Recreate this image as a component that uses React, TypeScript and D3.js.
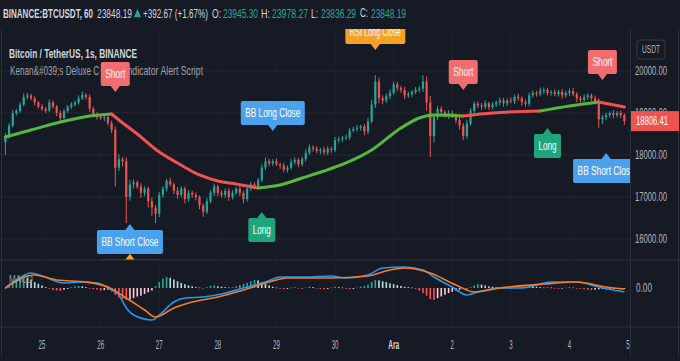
import * as React from 'react';
import * as d3 from 'd3';

// 90 minute bars, BTCUSDT, 24 Nov - 4 Dec 2020
const firstOpen = 18300;
const closes = [
  18440, 18700, 19000, 19050, 19200, 19380, 19420, 19350, 19250, 19150,
  19100, 19060, 19250, 19150, 19000, 18880, 19050, 19150, 19200, 19250,
  19350, 19430, 19380, 19100, 18980, 18900, 18880, 18900, 18760, 18600,
  17700, 17900, 17850, 17000, 17300, 17350, 17250, 17100, 17200, 16900,
  16750, 16600, 17050, 17200, 17380, 17300, 17150, 17050, 17200, 16950,
  17100, 17050, 17000, 16800, 16650, 16900, 17100, 17250, 17100, 17050,
  17150, 17000, 17100, 17200, 17100, 16950, 17200, 17300, 17250, 17400,
  17700, 17850, 17800, 17850, 17780, 17750, 17650, 17700, 17830, 17880,
  17780, 17900, 18050, 18180, 18150, 18100, 18130, 18060, 18150, 18120,
  18350, 18380, 18400, 18420, 18580, 18620, 18650, 18680, 18560, 18800,
  19200, 19750, 19350, 19300, 19400, 19480, 19680, 19600, 19550, 19420,
  19450, 19500, 19550, 19580, 19750, 19250, 18450, 18900, 19100, 19020,
  18950, 19000, 18950, 18830, 18700, 18450, 18750, 19050, 19220, 19180,
  19150, 19230, 19140, 19200, 19250, 19300, 19230, 19300, 19280, 19380,
  19350, 19260, 19220, 19420, 19480, 19460, 19530, 19550, 19480, 19500,
  19450, 19500, 19420, 19480, 19520, 19450, 19350, 19310, 19380, 19420,
  19350, 19280, 18850, 18900, 18950, 19000, 18950, 19000, 18950, 18806.41,
];
const wickUp = [
  80, 60, 70, 50, 60, 90, 60, 40, 50, 30,
  60, 40, 70, 50, 40, 60, 50, 40, 60, 50,
  70, 80, 40, 60, 50, 40, 60, 50, 40, 60,
  80, 120, 60, 90, 110, 70, 40, 80, 60, 50,
  90, 60, 70, 60, 50, 80, 40, 90, 60, 50,
  70, 50, 60, 40, 50, 80, 60, 70, 40, 60,
  50, 70, 60, 40, 60, 50, 70, 60, 50, 60,
  80, 90, 60, 50, 70, 40, 60, 50, 70, 60,
  50, 60, 80, 70, 50, 60, 40, 70, 60, 50,
  80, 60, 50, 70, 60, 50, 70, 40, 60, 80,
  120, 150, 90, 70, 60, 80, 70, 60, 50, 70,
  60, 50, 70, 60, 150, 120, 160, 90, 70, 60,
  50, 70, 60, 40, 80, 60, 90, 70, 60, 50,
  60, 70, 40, 60, 50, 70, 60, 50, 70, 60,
  80, 50, 60, 70, 60, 50, 80, 60, 50, 40,
  60, 50, 70, 40, 60, 80, 50, 60, 70, 50,
  40, 60, 70, 50, 60, 40, 70, 50, 60, 40,
];
const wickDn = [
  300, 50, 40, 60, 50, 40, 60, 50, 70, 40,
  50, 60, 40, 50, 70, 60, 40, 50, 60, 40,
  50, 40, 60, 70, 50, 60, 40, 70, 60, 80,
  450, 80, 120, 620, 90, 100, 60, 120, 80, 150,
  200, 220, 80, 60, 70, 50, 80, 90, 60, 100,
  60, 70, 80, 90, 120, 60, 50, 70, 80, 60,
  70, 90, 60, 50, 80, 100, 60, 50, 70, 60,
  50, 60, 70, 60, 50, 80, 60, 70, 50, 60,
  70, 50, 60, 50, 70, 60, 80, 50, 60, 70,
  50, 60, 70, 50, 60, 40, 60, 70, 90, 60,
  50, 80, 120, 90, 60, 70, 50, 80, 70, 90,
  60, 70, 50, 60, 80, 200, 500, 150, 70, 80,
  60, 90, 70, 80, 90, 100, 60, 50, 70, 60,
  80, 60, 70, 50, 60, 70, 80, 60, 50, 70,
  60, 90, 70, 60, 50, 70, 60, 80, 60, 70,
  50, 60, 80, 60, 70, 50, 90, 60, 50, 70,
  60, 80, 200, 110, 70, 60, 80, 60, 70, 90,
];

// moving average, [bar index, price]
const maKnots: [number, number][] = [
  [0, 18430], [7, 18595], [15, 18786], [23, 18930], [29, 18976], [31, 18833],
  [36, 18500], [42, 18071], [47, 17810], [53, 17524], [58, 17381], [63, 17310],
  [69, 17214], [75, 17286], [81, 17452], [87, 17619], [93, 17810], [100, 18119],
  [108, 18643], [113, 18881], [117, 18952], [125, 18930], [133, 19000],
  [146, 19048], [154, 19167], [162, 19262], [169, 19143],
];
const maTrendBreaks = [29, 69, 125, 146, 162]; // starts rising

const macdKnots: [number, number][] = [
  [0, 0], [3, 94], [7, 176], [10, 141], [16, 59], [20, 71], [25, 59], [28, 0],
  [31, -82], [33, -235], [35, -318], [40, -376], [42, -318], [46, -165],
  [49, -118], [54, -106], [59, -71], [65, 0], [71, 71], [75, 129], [82, 129],
  [89, 141], [93, 118], [99, 153], [103, 235], [109, 247], [114, 212],
  [117, 129], [122, 12], [126, -82], [129, -47], [135, 0], [141, 0],
  [149, 71], [156, 71], [162, 12], [166, -24], [169, -47],
];
const signalKnots: [number, number][] = [
  [0, 0], [8, 153], [14, 94], [22, 71], [28, 12], [33, -118], [38, -259],
  [41, -341], [46, -235], [51, -165], [58, -106], [65, -24], [72, 71],
  [77, 118], [89, 118], [99, 141], [105, 212], [109, 235], [116, 176],
  [123, 35], [128, -47], [135, 0], [147, 47], [156, 71], [164, 12], [169, -12],
];
const macdHist = [
  0, 40, 80, 110, 130, 140, 120, 100, 70, 50,
  30, 10, -10, -25, -30, -35, -20, -10, 10, 20,
  25, 20, 10, -5, -15, -20, -30, -25, -20, -40,
  -80, -110, -130, -140, -135, -120, -100, -90, -70, -50,
  -30, 20, 70, 110, 130, 120, 100, 80, 60, 45,
  30, 20, 10, 5, -5, 10, 25, 30, 20, 15,
  10, 5, 10, 20, 35, 50, 60, 80, 95, 90,
  70, 50, 30, 15, 5, -10, -15, -10, 5, 10,
  -5, -10, 5, 15, 10, -5, -10, -15, -10, 5,
  15, 10, 5, -10, -15, -10, 5, 15, 25, 40,
  70, 95, 90, 80, 70, 55, 45, 35, 25, 15,
  10, 5, -10, -30, -60, -90, -130, -140, -120, -100,
  -80, -60, -45, -30, -20, -10, -5, 10, 30, 45,
  40, 30, 20, 15, 10, 5, -5, -10, -5, 5,
  10, 15, 20, 25, 20, 15, 10, 5, 10, 5,
  -5, -10, -5, 5, 10, 5, -5, -10, -15, -20,
  -25, -20, -15, -10, -15, -10, -5, -10, -15, -10,
];

const priceTicks = [16000, 17000, 18000, 19000, 20000];
const dayTickLabels = ['25', '26', '27', '28', '29', '30', 'Ara', '2', '3', '4', '5'];
const lastPrice = 18806.41;

const signals = [
  { text: 'RSI Short Close', at: 34, price: 15650, dir: 'up', kind: 'rsi' },
  { text: 'Short', at: 30, price: 19500, dir: 'down', kind: 'short' },
  { text: 'BB Long Close', at: 73, price: 18571, dir: 'down', kind: 'bb' },
  { text: 'BB Short Close', at: 34, price: 16357, dir: 'up', kind: 'bb' },
  { text: 'Long', at: 70, price: 16643, dir: 'up', kind: 'long' },
  { text: 'RSI Long Close', at: 101, price: 20500, dir: 'down', kind: 'rsi' },
  { text: 'Short', at: 125, price: 19548, dir: 'down', kind: 'short' },
  { text: 'Long', at: 148, price: 18643, dir: 'up', kind: 'long' },
  { text: 'Short', at: 163, price: 19786, dir: 'down', kind: 'short' },
  { text: 'BB Short Close', at: 164, price: 18048, dir: 'up', kind: 'bb' },
];

const labelColor: Record<string, string> = {
  short: '#f26d6f', long: '#1fa57b', bb: '#4aa2ee', rsi: '#f6a025',
};
const labelWidth: Record<string, number> = {
  'Short': 29, 'Long': 27, 'BB Long Close': 64, 'BB Short Close': 66,
  'RSI Long Close': 60, 'RSI Short Close': 62,
};

const W = 680, H = 361;
const PLOT_R = 630, MAIN_T = 29, MAIN_B = 260, MACD_B = 327;
const BG = '#161a25';
const UP = '#26a69a', DOWN = '#ef5350';
const FONT = "'Liberation Sans', Arial, sans-serif";

// text squeezed horizontally to a given width (the screenshot is condensed)
function Txt(props: {
  x: number; y: number; w: number; children: React.ReactNode;
  anchor?: string; size?: number; fill?: string; weight?: number;
}) {
  const { x, y, w, children, anchor = 'start', size = 12, fill = '#b2b5be', weight = 400 } = props;
  const ref = React.useRef<SVGTextElement>(null);
  const [sx, setSx] = React.useState(0.6);
  React.useLayoutEffect(() => {
    if (ref.current) {
      const len = ref.current.getComputedTextLength();
      if (len > 0) setSx(w / len);
    }
  }, [w, children, size]);
  return (
    <text ref={ref} transform={`translate(${x},${y}) scale(${sx},1)`}
      textAnchor={anchor as any} dominantBaseline="central"
      fontSize={size} fill={fill} fontWeight={weight} fontFamily={FONT}>
      {children}
    </text>
  );
}

export default function App() {
  const start = new Date(2020, 10, 24, 9);
  const times = closes.map((_, i) => d3.timeMinute.offset(start, i * 90));
  const x = d3.scaleTime()
    .domain([start, times[times.length - 1]])
    .range([5.4, 624.4]);
  const xi = (i: number) => x(times[i]);
  const y = d3.scaleLinear().domain([16000, 20000]).range([239, 71]);
  const my = d3.scaleLinear().domain([-400, 300]).range([322, 262.5]);
  const tickDates = d3.timeDay.range(new Date(2020, 10, 25), new Date(2020, 11, 6));

  const candles = closes.map((c, i) => {
    const o = i === 0 ? firstOpen : closes[i - 1];
    const hi = Math.max(o, c) + wickUp[i];
    const lo = Math.min(o, c) - wickDn[i];
    return { o, c, hi, lo, i };
  });

  const maLine = d3.line<[number, number]>()
    .x(d => xi(d[0])).y(d => y(d[1])).curve(d3.curveMonotoneX);
  const bounds = [0, ...maTrendBreaks, closes.length - 1];
  const maSegs = bounds.slice(0, -1).map((b, k) => ({
    up: k % 2 === 0,
    d: maLine(maKnots.filter(p => p[0] >= b && p[0] <= bounds[k + 1])) || '',
  }));

  const macdLine = d3.line<[number, number]>()
    .x(d => xi(d[0])).y(d => my(d[1])).curve(d3.curveMonotoneX);

  const histColor = (i: number) => {
    const v = macdHist[i];
    const prev = i === 0 ? 0 : macdHist[i - 1];
    if (v >= 0) return v >= prev ? '#26a69a' : '#b2dfdb';
    return v <= prev ? '#ff5252' : '#ffcdd2';
  };

  const grid = '#222632';
  const text = '#b2b5be';

  return (
    <svg width={W} height={H} style={{ position: 'fixed', left: 0, top: 0 }}>
      <defs>
        <clipPath id="mainClip"><rect x={0} y={MAIN_T} width={PLOT_R} height={MAIN_B - MAIN_T} /></clipPath>
        <clipPath id="macdClip"><rect x={0} y={MAIN_B} width={PLOT_R} height={MACD_B - MAIN_B} /></clipPath>
      </defs>
      <rect width={W} height={H} fill={BG} />

      {/* grid */}
      {tickDates.map((d, k) => (
        <line key={'vg' + k} x1={x(d)} x2={x(d)} y1={MAIN_T} y2={MACD_B} stroke="#1c202b" />
      ))}
      {priceTicks.map(p => (
        <line key={'hg' + p} x1={0} x2={PLOT_R} y1={y(p)} y2={y(p)} stroke={grid} />
      ))}

      {/* candles */}
      <g clipPath="url(#mainClip)">
        {candles.map(c => {
          const col = c.c >= c.o ? UP : DOWN;
          const cx = xi(c.i);
          const top = y(Math.max(c.o, c.c));
          const h = Math.max(1, y(Math.min(c.o, c.c)) - top);
          return (
            <g key={c.i}>
              <line x1={cx} x2={cx} y1={y(c.hi)} y2={y(c.lo)} stroke={col} strokeWidth={1} />
              <rect x={cx - 1.1} y={top} width={2.2} height={h} fill={col} />
            </g>
          );
        })}
        {maSegs.map((s, k) => (
          <path key={'ma' + k} d={s.d} fill="none" stroke={s.up ? '#55b83b' : '#ef5350'}
            strokeWidth={3} strokeLinecap="round" />
        ))}
      </g>

      {/* legend */}
      <Txt x={9} y={54} w={128} fill="#d1d4dc" weight={600}>Bitcoin / TetherUS, 1s, BINANCE</Txt>
      <Txt x={10} y={71} w={89} fill="#9ea1aa">{'Kenan&#039;s Deluxe C'}</Txt>
      <Txt x={125} y={71} w={78} fill="#9ea1aa">{'Indicator Alert Script'}</Txt>

      {/* signal labels */}
      <g clipPath="url(#mainClip)">
        {signals.map((s, k) => {
          const cx = xi(s.at);
          const ty = y(s.price);
          const w = labelWidth[s.text];
          const h = 24;
          const down = s.dir === 'down';
          const boxY = down ? ty - 6 - h : ty + 6;
          const tri = down
            ? `M${cx - 5},${ty - 6.5} L${cx + 5},${ty - 6.5} L${cx},${ty} Z`
            : `M${cx - 5},${ty + 6.5} L${cx + 5},${ty + 6.5} L${cx},${ty} Z`;
          const fill = labelColor[s.kind];
          return (
            <g key={'sig' + k}>
              <rect x={cx - w / 2} y={boxY} width={w} height={h} rx={2} fill={fill} />
              <path d={tri} fill={fill} />
              <Txt x={cx} y={boxY + h / 2} w={w - 9} anchor="middle" size={12} fill="#ffffff">{s.text}</Txt>
            </g>
          );
        })}
      </g>

      {/* MACD pane */}
      <g clipPath="url(#macdClip)">
        {macdHist.map((v, i) => (
          <rect key={'h' + i} x={xi(i) - 0.8} width={1.6}
            y={Math.min(my(v), my(0))} height={Math.max(0.6, Math.abs(my(v) - my(0)))}
            fill={histColor(i)} />
        ))}
        <path d={macdLine(macdKnots) || ''} fill="none" stroke="#2196f3" strokeWidth={1.6} />
        <path d={macdLine(signalKnots) || ''} fill="none" stroke="#f57c1f" strokeWidth={1.6} />
      </g>
      <Txt x={9} y={279} w={24} size={11} fill="#9598a1">MACD</Txt>

      {/* pane borders */}
      <line x1={0} x2={W} y1={MAIN_B} y2={MAIN_B} stroke="#2a2e39" />
      <line x1={0} x2={W} y1={MACD_B} y2={MACD_B} stroke="#2a2e39" />
      <line x1={PLOT_R + 0.5} x2={PLOT_R + 0.5} y1={MAIN_T} y2={H - 4} stroke="#2a2e39" />
      <line x1={W - 1.5} x2={W - 1.5} y1={MAIN_T} y2={H - 4} stroke="#2a2e39" />
      <line x1={1.5} x2={1.5} y1={MAIN_T} y2={H - 4} stroke="#2a2e39" />

      {/* price axis */}
      <rect x={637} y={40} width={28} height={19} rx={3} fill="none" stroke="#363a45" />
      <Txt x={651} y={49.5} w={18} size={10} anchor="middle" fill={text}>USDT</Txt>
      {priceTicks.map(p => (
        <Txt key={'pt' + p} x={635} y={y(p)} w={32} size={12} fill={text}>{d3.format('.2f')(p)}</Txt>
      ))}
      <rect x={PLOT_R + 1} y={y(lastPrice) - 10} width={W - PLOT_R - 2} height={20} fill="#ef5350" />
      <Txt x={636} y={y(lastPrice)} w={32} size={12} fill="#ffffff">{d3.format('.2f')(lastPrice)}</Txt>
      <Txt x={636} y={my(0)} w={16} size={12} fill={text}>{d3.format('.2f')(0)}</Txt>

      {/* time axis */}
      {tickDates.map((d, k) => {
        const lab = dayTickLabels[k];
        return (
          <Txt key={'tt' + k} x={x(d)} y={345} w={lab.length === 3 ? 11 : lab.length * 3.4}
            anchor="middle" size={12} fill={lab === 'Ara' ? '#d1d4dc' : text}
            weight={lab === 'Ara' ? 700 : 400}>{lab}</Txt>
        );
      })}

      {/* header */}
      <Txt x={3} y={13} w={90} size={12.5} fill="#d1d4dc" weight={600}>BINANCE:BTCUSDT, 60</Txt>
      <Txt x={97} y={13} w={35} size={12.5} fill="#d1d4dc">23848.19</Txt>
      <path d="M134,17 L141,17 L137.5,9 Z" fill={UP} />
      <Txt x={143} y={13} w={65} size={12.5} fill="#d1d4dc">+392.67 (+1.67%)</Txt>
      <Txt x={212} y={13} w={9} size={12.5} fill="#d1d4dc">O:</Txt>
      <Txt x={223} y={13} w={35} size={12.5} fill={UP}>23945.30</Txt>
      <Txt x={261} y={13} w={9} size={12.5} fill="#d1d4dc">H:</Txt>
      <Txt x={272} y={13} w={36} size={12.5} fill={UP}>23978.27</Txt>
      <Txt x={311} y={13} w={7} size={12.5} fill="#d1d4dc">L:</Txt>
      <Txt x={321} y={13} w={35} size={12.5} fill={UP}>23836.29</Txt>
      <Txt x={360} y={13} w={8} size={12.5} fill="#d1d4dc">C:</Txt>
      <Txt x={371} y={13} w={35} size={12.5} fill={UP}>23848.19</Txt>
    </svg>
  );
}
